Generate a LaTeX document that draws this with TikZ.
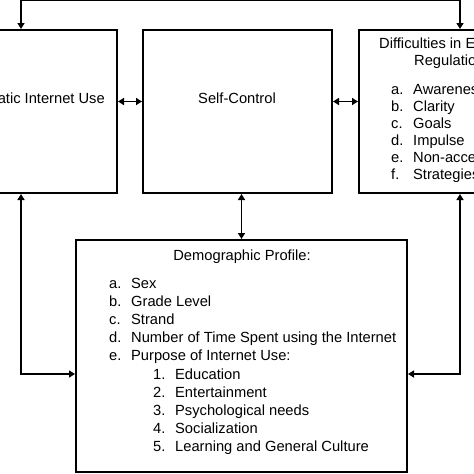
\documentclass[tikz,border=0pt]{standalone}
\usepackage{fontspec}
\setmainfont{Liberation Sans}
\usetikzlibrary{positioning,calc,arrows.meta}

\newcommand{\listentry}[2]{\makebox[22pt][l]{#1}#2}

\begin{document}
\begin{tikzpicture}[x=1pt, y=-1pt,
        box/.style={rectangle, draw, line width=2pt, minimum height=163pt, inner sep=0pt},
        link/.style={line width=1.6pt, <->, >={Triangle[length=6pt,width=7pt]}},
        lst/.style={align=left, inner sep=0pt, anchor=base west}]
        \useasboundingbox (0,0) rectangle (474,474);

        \node (piu) [box, minimum width=192pt] at (21,111.5) {};
        \node (sc) [box, minimum width=189pt] at (237.5,111.5) {};
        \node (der) [box, minimum width=202pt] at (460,111.5) {};
        \node (demo) [box, minimum width=331pt, minimum height=232pt] at (241.5,356) {};

        \node (piulabel) [anchor=east, inner sep=0pt, font=\fontsize{14.7}{17}\selectfont] at (105,98) {Problematic Internet Use};
        \node (sclabel) [font=\fontsize{14.7}{17}\selectfont] at (237,98) {Self-Control};

        % Difficulties box
        \node (dertitle) [align=center, anchor=west, inner sep=0pt, font=\fontsize{14.7}{17}\selectfont] at (379,53) {Difficulties in Emotion\\Regulation};
        \node (derlist) [lst, font=\fontsize{14.7}{16.9}\selectfont] at (391,179.3) {%
            \listentry{a.}{Awareness}\\
            \listentry{b.}{Clarity}\\
            \listentry{c.}{Goals}\\
            \listentry{d.}{Impulse}\\
            \listentry{e.}{Non-acceptance}\\
            \listentry{f.}{Strategies}};

        % Demographic box
        \node (demotitle) [anchor=base, font=\fontsize{14.7}{17}\selectfont] at (242,260) {Demographic Profile:};
        \node (demolist) [lst, font=\fontsize{14.7}{18.15}\selectfont] at (109,451.7) {%
            \listentry{a.}{Sex}\\
            \listentry{b.}{Grade Level}\\
            \listentry{c.}{Strand}\\
            \listentry{d.}{Number of Time Spent using the Internet}\\
            \listentry{e.}{Purpose of Internet Use:}\\
            \hspace*{44pt}\listentry{1.}{Education}\\
            \hspace*{44pt}\listentry{2.}{Entertainment}\\
            \hspace*{44pt}\listentry{3.}{Psychological needs}\\
            \hspace*{44pt}\listentry{4.}{Socialization}\\
            \hspace*{44pt}\listentry{5.}{Learning and General Culture}};

        \draw[link] (piu.north) -- ++(0,-29) -| (der.north);
        \draw[link] ($(piu.east)+(0,-10)$) -- ($(sc.west)+(0,-10)$);
        \draw[link] ($(sc.east)+(0,-10)$) -- ($(der.west)+(0,-10)$);
        \draw[link] (sc.south -| demo.north) -- (demo.north);
        \draw[link] (piu.south) |- ($(demo.west)+(0,18)$);
        \draw[link] (der.south) |- ($(demo.east)+(0,18)$);
    \end{tikzpicture}
\end{document}
